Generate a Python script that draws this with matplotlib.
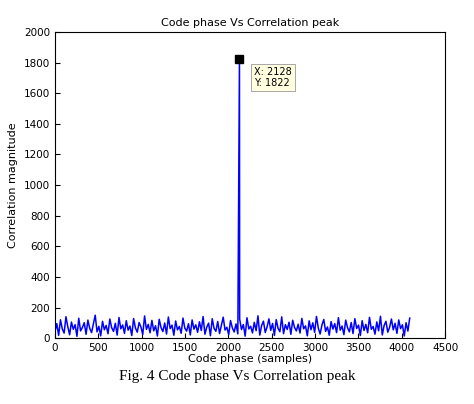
import numpy as np
import matplotlib.pyplot as plt

# correlation magnitude, read roughly across samples 0..4092
noise = [42, 95, 18, 120, 60, 33, 140, 75, 22, 105, 58, 88, 12, 130, 47, 70, 101, 25, 118, 64,
         36, 92, 150, 41, 77, 15, 110, 55, 83, 29, 125, 68, 44, 97, 20, 135, 61, 86, 31, 114,
         52, 79, 17, 128, 66, 39, 102, 73, 24, 145, 57, 90, 35, 116, 48, 81, 14, 123, 69, 43,
         99, 27, 138, 62, 85, 19, 112, 54, 76, 32, 131, 65, 46, 94, 21, 119, 59, 87, 38, 107,
         50, 141, 26, 72, 98, 16, 127, 63, 45, 109, 30, 84, 137, 53, 71, 23, 115, 67, 40, 93,
         28, 124, 56, 89, 13, 133, 60, 78, 34, 103, 49, 146, 20, 82, 111, 37, 74, 126, 51, 96,
         18, 121, 64, 42, 139, 29, 88, 57, 104, 25, 117, 70, 47, 91, 33, 129, 61, 80, 15, 113,
         55, 100, 38, 142, 66, 27, 86, 122, 44, 73, 19, 108, 59, 95, 36, 134, 52, 79, 23, 118,
         68, 41, 102, 30, 127, 63, 85, 17, 114, 50, 90, 35, 136, 58, 76, 26, 106, 48, 143, 21,
         83, 110, 39, 71, 125, 54, 97, 31, 119, 62, 87, 14, 101, 46, 131]
last_sample = 4092
peak_x = 2128
peak_y = 1822

x = list(np.linspace(0, last_sample, len(noise)))
y = list(noise)
i = int(np.searchsorted(x, peak_x))
x.insert(i, peak_x)
y.insert(i, peak_y)

fig = plt.figure(figsize=(4.74, 4.04), dpi=100)
ax = fig.add_axes([0.116, 0.163, 0.823, 0.758])
ax.plot(x, y, color='#0000ff', linewidth=1.1)
ax.plot(peak_x, peak_y, 's', color='black', markersize=6)
ax.text(peak_x + 170, peak_y - 50, "X: 2128\nY: 1822", fontsize=7, va='top',
        bbox=dict(boxstyle='square,pad=0.3', fc='#ffffe0', ec='#999999', lw=0.6))

ax.set_xlim(0, 4500)
ax.set_ylim(0, 2000)
ax.set_xticks(np.arange(0, 4501, 500))
ax.set_yticks(np.arange(0, 2001, 200))
ax.tick_params(labelsize=7.5, direction='in')
ax.set_title("Code phase Vs Correlation peak", fontsize=8, pad=4)
ax.set_xlabel("Code phase (samples)", fontsize=8, labelpad=1)
ax.set_ylabel("Correlation magnitude", fontsize=8)

fig.text(0.5, 0.06, "Fig. 4 Code phase Vs Correlation peak", ha='center',
         fontsize=11, family='Liberation Serif')

fig.savefig("out.png", dpi=100)
